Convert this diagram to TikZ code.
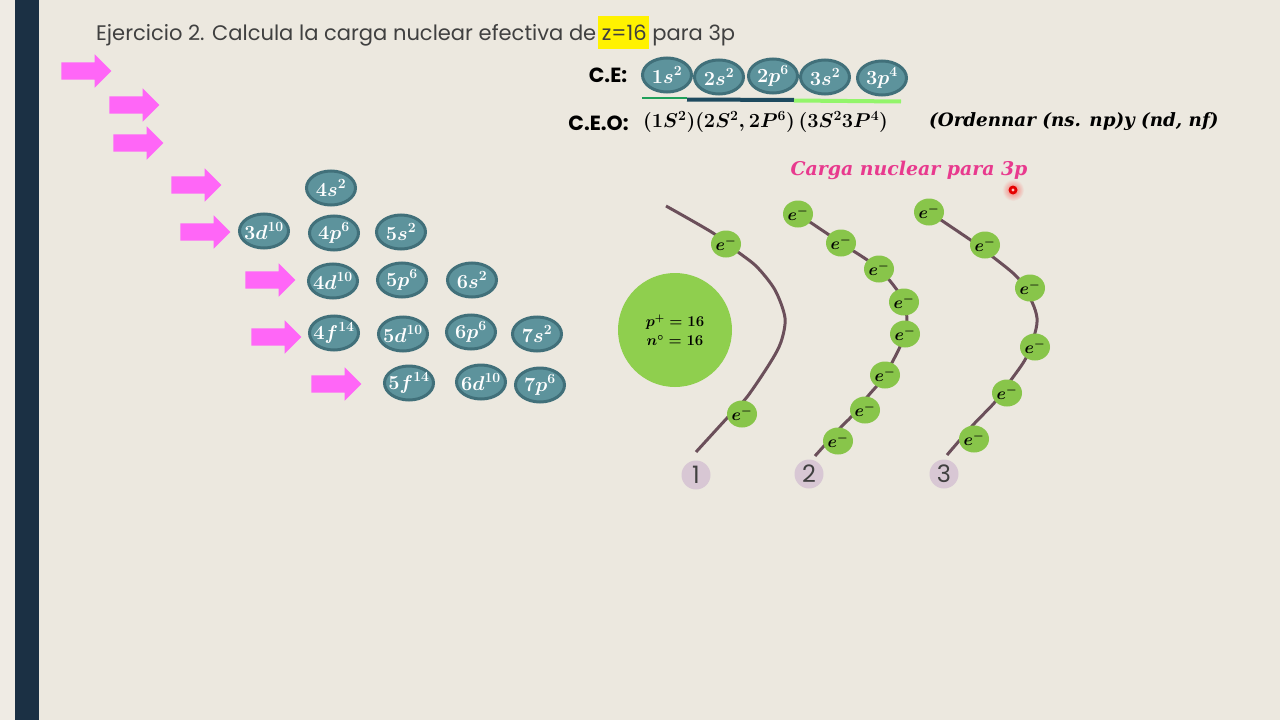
\documentclass[tikz,border=0pt]{standalone}
\usepackage{fix-cm}
\usepackage{fontspec}
\setmainfont{Poppins}
\newfontfamily\cambriafont{DejaVu Serif}
\usetikzlibrary{shapes.geometric,shapes.arrows,backgrounds}
\definecolor{paper}{HTML}{ECE8DF}
\definecolor{barblue}{HTML}{1B3044}
\definecolor{orbfill}{HTML}{5D939C}
\definecolor{orbline}{HTML}{41707A}
\definecolor{pushpink}{HTML}{FF66F7}
\definecolor{nucgreen}{HTML}{8FCF4E}
\definecolor{shellbrown}{HTML}{6B4F5A}
\definecolor{numpurple}{HTML}{D8C7D4}
\definecolor{cargapink}{HTML}{E83A8E}
\definecolor{lineone}{HTML}{1FA05A}
\definecolor{linetwo}{HTML}{1E4A5F}
\definecolor{linethree}{HTML}{93F56B}
\tikzset{
	orb/.style={ellipse,draw=orbline,fill=orbfill,line width=3pt,minimum width=49pt,minimum height=34pt,inner sep=-8pt,text=white,font=\fontsize{20}{22}\selectfont\boldmath},
	push/.style={single arrow,fill=pushpink,minimum height=50pt,inner xsep=0pt,inner ysep=8.5pt,single arrow head extend=8pt,single arrow tip angle=90},
	electron/.style={ellipse,fill=nucgreen!95!black,minimum width=30pt,minimum height=27pt,inner sep=0pt,font=\fontsize{17}{19}\selectfont\boldmath},
	shell/.style={draw=shellbrown,line width=3pt},
	shellnum/.style={circle,fill=numpurple,minimum size=29pt,inner sep=0pt,text=black!75,font=\fontsize{24}{26}\selectfont},
}
\begin{document}
\begin{tikzpicture}[x=1pt,y=-1pt]
	\useasboundingbox (0,0) rectangle (1280,720);
	\begin{pgfonlayer}{background}
		\fill[paper] (0,0) rectangle (1280,720);
		\fill[paper!85!white] (0,0) rectangle (15,720);
		\fill[barblue] (15,0) rectangle (39,720);
		\fill[yellow] (598,16) rectangle (649,49);
	\end{pgfonlayer}

	\node[anchor=west,inner sep=0pt,font=\fontsize{21.05}{24}\selectfont,text=black!75] (title) at (96,35) {Ejercicio 2. Calcula la carga nuclear efectiva de z=16 para 3p};

	%arrows
	\node[push] (a1) at (82,71) {};
	\node[push] (a2) at (130,105) {};
	\node[push] (a3) at (134,143) {};
	\node[push] (a4) at (192,185) {};
	\node[push] (a5) at (201,232) {};
	\node[push] (a6) at (266,280) {};
	\node[push] (a7) at (272,337) {};
	\node[push] (a8) at (332,384) {};

	%configuracion
	\node[font=\bfseries\fontsize{20.5}{24}\selectfont] (ce) at (608,75) {C.E:};
	\node[orb] (o1s) at (667,75) {$1s^2$};
	\node[orb] (o2s) at (719,77) {$2s^2$};
	\node[orb] (o2p) at (773,76) {$2p^6$};
	\node[orb] (o3s) at (825,77) {$3s^2$};
	\node[orb] (o3p) at (882,78) {$3p^4$};
	\draw[line width=2pt,lineone] (642,97.5) -- (687,97.5);
	\draw[line width=4pt,linetwo] (687,99.5) -- (794,100);
	\draw[line width=4pt,linethree] (794,100.5) -- (901,101.5);

	\node[font=\bfseries\fontsize{20.5}{24}\selectfont] (ceo) at (598.5,123) {C.E.O:};
	\node[anchor=west,inner sep=0pt,font=\fontsize{20}{24}\selectfont\boldmath] (ceotxt) at (643,122) {$(1S^2)(2S^2,2P^6)\,(3S^23P^4)$};
	\node[anchor=west,inner sep=0pt,font=\cambriafont\bfseries\itshape\fontsize{18.3}{24}\selectfont] (order) at (929,122) {(Ordennar (ns. np)y (nd, nf)};

	\node[orb] (o4s) at (331,188) {$4s^2$};
	\node[orb] (o3d) at (264,231) {$3d^{10}$};
	\node[orb] (o4p) at (334,233) {$4p^6$};
	\node[orb] (o5s) at (401,232) {$5s^2$};
	\node[orb] (o4d) at (333,281) {$4d^{10}$};
	\node[orb] (o5p) at (402,280) {$5p^6$};
	\node[orb] (o6s) at (472,280) {$6s^2$};
	\node[orb] (o4f) at (334,333) {$4f^{14}$};
	\node[orb] (o5d) at (403,334) {$5d^{10}$};
	\node[orb] (o6p) at (471,332) {$6p^6$};
	\node[orb] (o7s) at (537,334) {$7s^2$};
	\node[orb] (o5f) at (409,383) {$5f^{14}$};
	\node[orb] (o6d) at (481,382) {$6d^{10}$};
	\node[orb] (o7p) at (540,385) {$7p^6$};

	\node[font=\cambriafont\bfseries\itshape\fontsize{18.9}{24}\selectfont,text=cargapink] (carga) at (909,170) {Carga nuclear para 3p};
	\shade[inner color=red!50!paper,outer color=paper] (1013,190) circle (11);
	\fill[red!90!black] (1013,190) circle (4.5);
	\fill[red!25!white] (1013,190) circle (1.6);

	%nucleo
	\node[circle,fill=nucgreen,minimum size=114pt,inner sep=0pt,align=center,font=\fontsize{15}{19}\selectfont\boldmath] (nuc) at (675,330) {$p^+=16$\\$n^\circ=16$};

	%capa 1
	\node[electron] (e1a) at (726,244) {$e^-$};
	\node[electron] (e1b) at (742,414) {$e^-$};
	\coordinate (s1a) at (666,206);
	\coordinate (s1b) at (713,233);
	\coordinate (s1c) at (738,252);
	\coordinate (s1d) at (757,267);
	\coordinate (s1e) at (775,290);
	\coordinate (s1f) at (785,318);
	\coordinate (s1g) at (781,342);
	\coordinate (s1h) at (770,363);
	\coordinate (s1i) at (747,397);
	\coordinate (s1j) at (728,417);
	\coordinate (s1k) at (696,452);
	%capa 2
	\node[electron] (e2a) at (798,214) {$e^-$};
	\node[electron] (e2b) at (841,243) {$e^-$};
	\node[electron] (e2c) at (879,269) {$e^-$};
	\node[electron] (e2d) at (904,302) {$e^-$};
	\node[electron] (e2e) at (905,334) {$e^-$};
	\node[electron] (e2f) at (885,375) {$e^-$};
	\node[electron] (e2g) at (865,410) {$e^-$};
	\node[electron] (e2h) at (838,441) {$e^-$};
	\coordinate (s2a) at (868,396);
	\coordinate (s2b) at (851,417);
	\coordinate (s2c) at (842,426);
	\coordinate (s2d) at (815,456);
	%capa 3
	\node[electron] (e3a) at (929,212) {$e^-$};
	\node[electron] (e3b) at (985,245) {$e^-$};
	\node[electron] (e3c) at (1030,288) {$e^-$};
	\node[electron] (e3d) at (1035,347) {$e^-$};
	\node[electron] (e3e) at (1007,393) {$e^-$};
	\node[electron] (e3f) at (974,439) {$e^-$};
	\coordinate (s3a) at (972,241);
	\coordinate (s3b) at (993,257);
	\coordinate (s3c) at (1018,278);
	\coordinate (s3d) at (1032,302);
	\coordinate (s3e) at (1037,318);
	\coordinate (s3f) at (1035,333);
	\coordinate (s3g) at (1026,358);
	\coordinate (s3h) at (1011,380);
	\coordinate (s3i) at (995,402);
	\coordinate (s3j) at (973,425);
	\coordinate (s3k) at (947,455);

	\node[shellnum] (n1) at (696,475) {1};
	\node[shellnum] (n2) at (809,474) {2};
	\node[shellnum] (n3) at (944,474) {3};

	\begin{pgfonlayer}{background}
		\draw[shell] plot[smooth] coordinates {(s1a) (s1b) (s1c) (s1d) (s1e) (s1f) (s1g) (s1h) (s1i) (s1j) (s1k)};
		\draw[shell] plot[smooth] coordinates {(e2a.center) (e2b.center) (e2c.center) (e2d.center) (e2e.center) (e2f.center) (s2a) (s2b) (s2c) (s2d)};
		\draw[shell] plot[smooth] coordinates {(e3a.center) (s3a) (s3b) (s3c) (s3d) (s3e) (s3f) (s3g) (s3h) (s3i) (s3j) (s3k)};
	\end{pgfonlayer}
\end{tikzpicture}
\end{document}
